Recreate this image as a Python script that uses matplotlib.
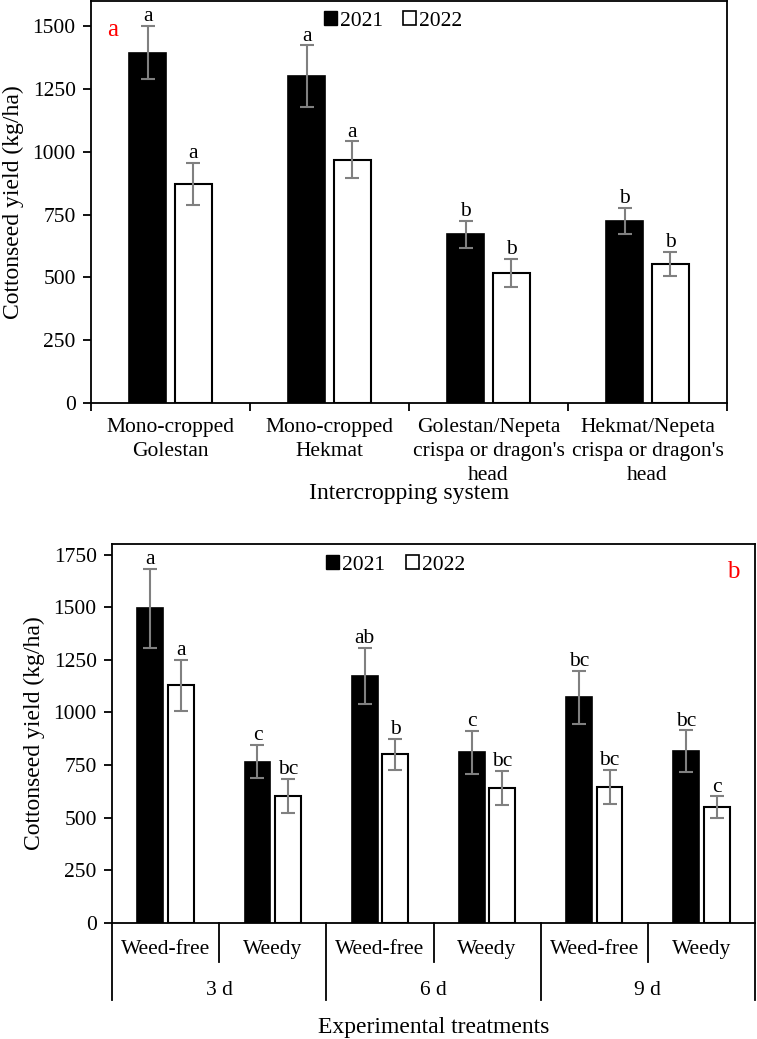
import matplotlib

matplotlib.use("Agg")
import matplotlib.pyplot as plt
import numpy as np
from matplotlib.patches import Patch

# panel a: intercropping system
systems = [
    "Mono-cropped\nGolestan",
    "Mono-cropped\nHekmat",
    "Golestan/Nepeta\ncrispa or dragon's\nhead",
    "Hekmat/Nepeta\ncrispa or dragon's\nhead",
]
a_2021 = [1395, 1300, 671, 723]
a_2021_err = [106, 123, 54, 52]
a_2022 = [873, 968, 516, 554]
a_2022_err = [83, 73, 56, 48]
a_let_2021 = ["a", "a", "b", "b"]
a_let_2022 = ["a", "a", "b", "b"]

# panel b: experimental treatments
weed = ["Weed-free", "Weedy", "Weed-free", "Weedy", "Weed-free", "Weedy"]
days = ["3 d", "6 d", "9 d"]
b_2021 = [1495, 765, 1173, 809, 1071, 814]
b_2021_err = [188, 78, 134, 103, 125, 100]
b_2022 = [1128, 602, 800, 641, 646, 548]
b_2022_err = [120, 82, 73, 80, 80, 52]
b_let_2021 = ["a", "c", "ab", "c", "bc", "bc"]
b_let_2022 = ["a", "bc", "b", "bc", "bc", "c"]

plt.rcParams["font.family"] = ["Liberation Serif", "DejaVu Serif"]
plt.rcParams["axes.linewidth"] = 1.3

FS = 15.5
ERR_KW = dict(ecolor="#808080", elinewidth=1.5, capsize=5, capthick=1.5)


def draw_bars(ax, x, v1, e1, v2, e2, l1, l2, w, off):
    ax.bar(x - off, v1, width=w, color="black", edgecolor="black", linewidth=1.2,
           yerr=e1, error_kw=ERR_KW, zorder=2)
    ax.bar(x + off, v2, width=w, color="white", edgecolor="black", linewidth=1.5,
           yerr=e2, error_kw=ERR_KW, zorder=2)
    for xi, v, e, t in zip(x - off, v1, e1, l1):
        ax.annotate(t, (xi, v + e), xytext=(0, 3.5), textcoords="offset points",
                    ha="center", va="baseline", fontsize=FS)
    for xi, v, e, t in zip(x + off, v2, e2, l2):
        ax.annotate(t, (xi, v + e), xytext=(0, 3.5), textcoords="offset points",
                    ha="center", va="baseline", fontsize=FS)


def add_legend(ax, xy):
    handles = [Patch(facecolor="black", edgecolor="black", label="2021"),
               Patch(facecolor="white", edgecolor="black", linewidth=1.2, label="2022")]
    ax.legend(handles=handles, loc="center", bbox_to_anchor=xy, ncol=2, frameon=False,
              fontsize=FS, handlelength=0.6, handleheight=0.6, handletextpad=0.15,
              columnspacing=0.95, borderpad=0)


fig = plt.figure(figsize=(7.57, 10.39), dpi=100)

# ---- panel a
ax1 = fig.add_axes([91 / 757, 1 - 403 / 1039, 636 / 757, 402 / 1039])
x1 = np.arange(len(systems))
draw_bars(ax1, x1, a_2021, a_2021_err, a_2022, a_2022_err, a_let_2021, a_let_2022,
          w=0.233, off=0.143)
ax1.set_xlim(-0.5, len(systems) - 0.5)
ax1.set_ylim(0, 1600)
ax1.set_yticks(np.arange(0, 1501, 250))
ax1.set_xticks(x1)
ax1.set_xticklabels(systems, fontsize=FS, linespacing=1.36)
ax1.set_xticks(np.arange(-0.5, len(systems), 1.0), minor=True)
ax1.tick_params(axis="x", which="major", length=0, pad=11)
ax1.tick_params(axis="x", which="minor", length=6, width=1.3, direction="out")
ax1.tick_params(axis="y", length=6, width=1.3, direction="out", labelsize=FS, pad=5)
ax1.set_ylabel("Cottonseed yield (kg/ha)", fontsize=17, labelpad=6)
ax1.set_xlabel("Intercropping system", fontsize=17)
ax1.xaxis.set_label_coords(0.5, -0.198)
add_legend(ax1, (0.475, 0.95))
ax1.text(0.0346, 0.928, "a", color="red", fontsize=18, ha="center", va="center",
         transform=ax1.transAxes)

# ---- panel b
ax2 = fig.add_axes([112 / 757, 1 - 922.7 / 1039, 643 / 757, 378.7 / 1039])
x2 = np.arange(len(weed))
draw_bars(ax2, x2, b_2021, b_2021_err, b_2022, b_2022_err, b_let_2021, b_let_2022,
          w=0.24, off=0.1425)
ax2.set_xlim(-0.5, len(weed) - 0.5)
ax2.set_ylim(0, 1800)
ax2.set_yticks(np.arange(0, 1751, 250))
ax2.tick_params(axis="x", length=0, labelbottom=False)
ax2.tick_params(axis="y", length=6, width=1.3, direction="out", labelsize=FS, pad=5)
ax2.set_ylabel("Cottonseed yield (kg/ha)", fontsize=17, labelpad=6)

# two-level category axis
trans = ax2.get_xaxis_transform()
for i, lab in enumerate(weed):
    ax2.text(i, -0.072, lab, transform=trans, ha="center", va="center", fontsize=FS)
for b in np.arange(0.5, len(weed), 2):
    ax2.plot([b, b], [0, -0.103], transform=trans, color="black", lw=1.3, clip_on=False)
for b in np.arange(-0.5, len(weed) + 0.5, 2):
    ax2.plot([b, b], [0, -0.204], transform=trans, color="black", lw=1.3, clip_on=False)
for j, d in enumerate(days):
    ax2.text(2 * j + 0.5, -0.178, d, transform=trans, ha="center", va="center", fontsize=FS)
ax2.text(0.5, -0.278, "Experimental treatments", transform=ax2.transAxes,
         ha="center", va="center", fontsize=17)
add_legend(ax2, (0.441, 0.9445))
ax2.text(0.966, 0.926, "b", color="red", fontsize=18, ha="center", va="center",
         transform=ax2.transAxes)

fig.savefig("out.png", dpi=100)
